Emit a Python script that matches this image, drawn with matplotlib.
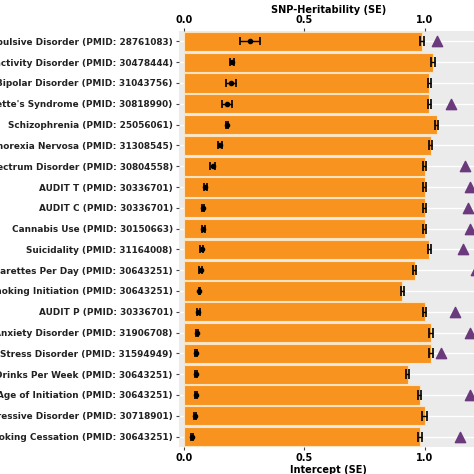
import numpy as np
import matplotlib
matplotlib.use("Agg")
import matplotlib.pyplot as plt

traits = ["Obsessive-Compulsive Disorder (PMID: 28761083)",
          "Attention-Deficit/Hyperactivity Disorder (PMID: 30478444)",
          "Bipolar Disorder (PMID: 31043756)",
          "Tourette's Syndrome (PMID: 30818990)",
          "Schizophrenia (PMID: 25056061)",
          "Anorexia Nervosa (PMID: 31308545)",
          "Autism Spectrum Disorder (PMID: 30804558)",
          "AUDIT T (PMID: 30336701)",
          "AUDIT C (PMID: 30336701)",
          "Cannabis Use (PMID: 30150663)",
          "Suicidality (PMID: 31164008)",
          "Cigarettes Per Day (PMID: 30643251)",
          "Smoking Initiation (PMID: 30643251)",
          "AUDIT P (PMID: 30336701)",
          "Generalized Anxiety Disorder (PMID: 31906708)",
          "Post-Traumatic Stress Disorder (PMID: 31594949)",
          "Drinks Per Week (PMID: 30643251)",
          "Age of Initiation (PMID: 30643251)",
          "Major Depressive Disorder (PMID: 30718901)",
          "Smoking Cessation (PMID: 30643251)"]
h2 = [0.275, 0.20, 0.195, 0.18, 0.18, 0.15, 0.12, 0.09, 0.08, 0.08,
      0.075, 0.07, 0.065, 0.06, 0.055, 0.05, 0.05, 0.05, 0.045, 0.035]
h2_se = [0.04, 0.01, 0.02, 0.02, 0.005, 0.01, 0.01, 0.005, 0.005, 0.006,
         0.006, 0.006, 0.004, 0.006, 0.005, 0.005, 0.004, 0.004, 0.004, 0.005]
intercept = [0.99, 1.035, 1.02, 1.02, 1.05, 1.025, 1.0, 1.0, 1.0, 1.0,
             1.02, 0.96, 0.907, 1.0, 1.025, 1.025, 0.93, 0.98, 1.0, 0.98]
int_se = [0.008, 0.008, 0.006, 0.006, 0.006, 0.006, 0.006, 0.005, 0.005, 0.006,
          0.006, 0.006, 0.006, 0.006, 0.008, 0.008, 0.006, 0.006, 0.01, 0.008]
tri = [1.05, None, None, 1.11, None, None, 1.17, 1.19, 1.18, 1.19,
       1.16, 1.215, None, 1.125, 1.19, 1.067, None, 1.19, None, 1.146]

fig = plt.figure(figsize=(4.74, 4.74), dpi=100)
ax = fig.add_axes([179/474, 27/474, 1 - 179/474 + 0.01, 416/474])
ax.set_facecolor("#EBEBEB")
y = np.arange(len(traits))
ax.barh(y, intercept, height=0.92, color="#F7931E", edgecolor="#FBE3C0", linewidth=0.8, zorder=2)
ax.errorbar(intercept, y, xerr=int_se, fmt="none", ecolor="black", capsize=3.5, elinewidth=1, capthick=1.2, zorder=3)
ax.errorbar(h2, y, xerr=h2_se, fmt="o", color="black", ms=3, capsize=3, elinewidth=1, capthick=1.2, zorder=4)
ty = [i for i, t in enumerate(tri) if t is not None]
tx = [t for t in tri if t is not None]
ax.scatter(tx, ty, marker="^", s=55, color="#6B3A7D", zorder=4)
ax.set_yticks(y)
ax.set_yticklabels(traits, fontweight="bold", fontsize=6.4, color="#222222")
ax.set_ylim(len(traits) - 0.5, -0.5)
ax.set_xlim(-0.02, 1.225)
ax.set_xticks([0, 0.5, 1.0])
ax.set_xticklabels(["0.0", "0.5", "1.0"], fontweight="bold", fontsize=7)
ax.grid(axis="y", color="white", lw=1, zorder=0)
ax.grid(axis="x", visible=False)
ax.set_axisbelow(True)
for s in ax.spines.values():
    s.set_visible(False)
ax.tick_params(length=2.5, color="#444444", pad=2)
ax.set_xlabel("Intercept (SE)", fontweight="bold", fontsize=7, labelpad=1)
top = ax.secondary_xaxis("top")
top.set_xticks([0, 0.5, 1.0])
top.set_xticklabels(["0.0", "0.5", "1.0"], fontweight="bold", fontsize=7)
top.tick_params(length=2.5, color="#444444", pad=2)
top.spines["top"].set_visible(False)
top.set_xlabel("SNP-Heritability (SE)", fontweight="bold", fontsize=7, labelpad=1)
fig.savefig("out.png", dpi=100, facecolor="white")
